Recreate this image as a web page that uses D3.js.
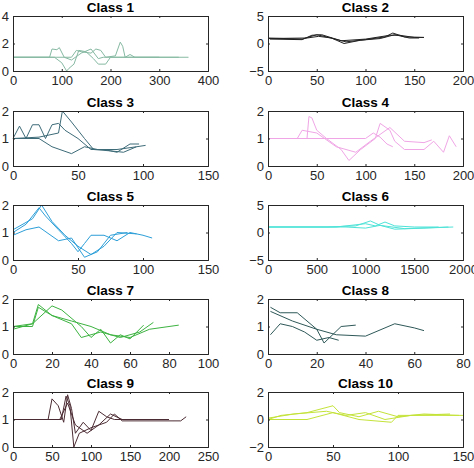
<!DOCTYPE html><html><head><meta charset="utf-8"><script src="https://cdn.jsdelivr.net/npm/d3@7"></script>
<style>body{margin:0;background:#fff}text{font-family:"Liberation Sans",Arial,sans-serif}</style></head><body><svg id="c" width="474" height="468"></svg><script>
const titles=["Class 1","Class 2","Class 3","Class 4","Class 5","Class 6","Class 7","Class 8","Class 9","Class 10"];
const colors=["#86b9a3","#222222","#3d6b78","#f0a6e6","#2d9fd8","#4fe3d8","#3db341","#2f5858","#4b2b33","#c4e33a"];
const xDomains=[[0,400],[0,200],[0,150],[0,200],[0,150],[0,2000],[0,100],[0,80],[0,250],[0,150]];
const yDomains=[[0,4],[-5,5],[0,2],[0,2],[0,2],[-5,5],[0,2],[0,2],[0,2],[-2,2]];
const xTicks=[[0,100,200,300,400],[0,50,100,150,200],[0,50,100,150],[0,50,100,150,200],[0,50,100,150],[0,500,1000,1500,2000],[0,20,40,60,80,100],[0,20,40,60,80],[0,50,100,150,200,250],[0,50,100,150]];
const yTicks=[[0,2,4],[-5,0,5],[0,1,2],[0,1,2],[0,1,2],[-5,0,5],[0,1,2],[0,1,2],[0,1,2],[-2,0,2]];
const series=[
 [[[0,1],[75,1],[80,1.6],[90,1.55],[95,1.7],[105,1],[120,1],[130,1.5],[140,1.4],[160,1.3],[170,1.6],[180,1.5],[190,1],[210,1.1],[220,2.1],[225,1.8],[230,1],[240,1.2],[250,1],[360,1]],
  [[0,1],[85,1],[100,0.6],[110,0],[115,0.2],[125,0.5],[135,1.5],[150,1.4],[165,0.9],[175,0.5],[190,0.5],[200,1],[300,1]],
  [[0,1],[90,1],[105,1],[120,0.8],[140,1.3],[160,1.6],[175,0.9],[185,1],[340,1]]],
 [[[0,1],[35,0.8],[50,1.6],[60,1.2],[80,0.3],[100,0.7],[120,1.2],[128,1.9],[140,1.2],[160,1.1]],
  [[0,0.9],[40,1],[52,1.3],[65,1],[78,0],[95,0.6],[115,0.9],[130,1.6],[145,1],[155,1]],
  [[2,0.8],[35,0.7],[45,1.5],[55,1.6],[75,0.5],[100,0.8],[125,1.5],[135,1.5],[150,1.1],[160,1.1]]],
 [[[0,1],[5,1.45],[10,1],[15,1.5],[20,1.5],[25,1],[30,1.5],[35,1.55],[40,1.3],[50,1],[60,0.6],[70,0.6],[80,0.5],[90,0.8],[97,0.8]],
  [[0,1],[20,1.05],[35,1.2],[38,2],[45,1.6],[55,1],[62,0.6],[75,0.55],[85,0.5],[95,0.7]],
  [[0,1],[20,1],[30,0.7],[45,0.45],[55,0.7],[65,0.6],[80,0.6],[95,0.7],[102,0.75]]],
 [[[0,1],[40,1],[42,1.8],[45,1.75],[50,1.3],[60,1],[75,0.6],[83,0.2],[95,0.6],[110,1],[115,1.55],[125,1.3],[130,0.9],[140,0.6],[160,0.6],[170,0.9],[180,0.5],[186,1.1],[193,0.7]],
  [[0,1],[30,1],[35,1.3],[50,1.2],[70,0.7],[90,0.5],[105,0.9],[125,1.4],[140,0.9],[160,0.85],[168,0.95]],
  [[0,1],[60,1],[100,1],[108,1.2],[115,1.05],[122,0.8],[128,0.7]]],
 [[[0,1],[10,1.3],[20,1.9],[25,1.6],[35,1.1],[45,0.6],[50,0.3],[55,0.6],[60,0.9],[70,0.9],[80,0.7],[90,1],[100,0.9],[107,0.8]],
  [[0,1.1],[15,1.5],[22,2],[30,1.4],[40,0.9],[50,0.5],[60,0.2],[70,0.5],[80,1],[95,0.95]],
  [[0,0.9],[10,1.1],[20,1.2],[35,0.7],[45,0.8],[55,0.1],[65,0.3],[75,0.9],[88,1]]],
 [[[0,1],[600,1],[900,1.2],[1050,2.1],[1150,1.3],[1300,0.6],[1600,0.8],[1900,1]],
  [[0,1],[700,1],[1000,1.6],[1100,1.2],[1200,1.9],[1300,1.2],[1500,1],[1750,1]],
  [[0,1],[800,1],[1000,0.8],[1150,1.3],[1400,0.7],[1700,0.9],[1850,1]]],
 [[[0,1],[10,1.1],[13,1.8],[20,1.4],[30,1.2],[40,1],[50,0.7],[60,0.6],[70,0.9],[80,1],[85,1.05]],
  [[0,0.9],[10,1.1],[20,1.75],[25,1.6],[35,1],[40,0.6],[45,0.9],[50,0.4],[55,0.7],[60,0.55],[67,1.05]],
  [[0,1],[10,1],[13,1.7],[20,1.4],[30,1.1],[35,0.6],[45,0.8],[55,0.6],[65,0.8],[72,1.15]]],
 [[[1,1.7],[5,1.5],[12,1.5],[20,0.9],[23,0.4],[30,1],[36,1.05]],
  [[1,1.55],[10,1.2],[20,0.9],[28,0.7],[40,0.65],[52,1.1],[60,0.95],[64,0.85]],
  [[1,0.7],[5,1.1],[10,1],[15,0.8],[20,0.5],[25,0.6],[29,0.5]]],
 [[[0,1],[45,1],[50,1.75],[58,1.5],[65,0.9],[70,1.9],[75,1.4],[80,0.5],[90,0.9],[100,0.6],[110,1.3],[120,1.1],[130,1],[200,1]],
  [[0,1],[62,1],[68,1.85],[73,1.5],[78,0],[85,0.5],[100,0.7],[120,0.9],[130,1.2],[140,0.95],[215,0.95],[222,1.1]],
  [[0,1],[60,1],[70,1.6],[80,0.8],[95,0.5],[110,0.8],[125,1.2],[140,1],[180,1]]],
 [[[0,0],[10,0.3],[30,0.5],[50,1],[55,0.5],[70,0.2],[85,0.6],[100,0.2],[120,0.4],[147,0.3]],
  [[0,0.1],[20,0.4],[45,0.6],[60,0.3],[75,0.5],[90,0],[110,0.3],[140,0.4]],
  [[0,0],[30,0],[50,0.5],[70,0],[95,-0.2],[100,0.3],[130,0.3],[150,0.3]]]
];
const svg=d3.select("#c");
const tops=[16,111,205,299,392],H=55,lefts=[13,268],W=195;
titles.forEach((t,i)=>{
 const r=Math.floor(i/2),c=i%2,x0=lefts[c],y0=tops[r];
 const g=svg.append("g").attr("transform",`translate(${x0},${y0})`);
 const x=d3.scaleLinear().domain(xDomains[i]).range([0,W]);
 const y=d3.scaleLinear().domain(yDomains[i]).range([H,0]);
 const line=d3.line().x(d=>x(d[0])).y(d=>y(d[1]));
 series[i].forEach(s=>g.append("path").attr("d",line(s)).attr("fill","none").attr("stroke",colors[i]).attr("stroke-width",1));
 g.append("g").attr("transform",`translate(0,${H})`).call(d3.axisBottom(x).tickValues(xTicks[i]).tickSize(-2).tickPadding(5).tickFormat(d3.format("d")));
 g.append("g").call(d3.axisLeft(y).tickValues(yTicks[i]).tickSize(-2).tickPadding(4).tickFormat(d3.format("d")));
 g.append("g").call(d3.axisTop(x).tickValues(xTicks[i]).tickSize(-2).tickFormat(""));
 g.append("g").attr("transform",`translate(${W},0)`).call(d3.axisRight(y).tickValues(yTicks[i]).tickSize(-2).tickFormat(""));
 g.selectAll(".domain").attr("stroke","#262626");g.selectAll(".tick line").attr("stroke","#262626");
 g.selectAll(".tick text").attr("font-size",13).attr("fill","#262626");
 g.append("text").attr("x",W/2).attr("y",-4).attr("text-anchor","middle").attr("font-weight","bold").attr("font-size",13.5).attr("fill","#000").text(t);
});
</script></body></html>
